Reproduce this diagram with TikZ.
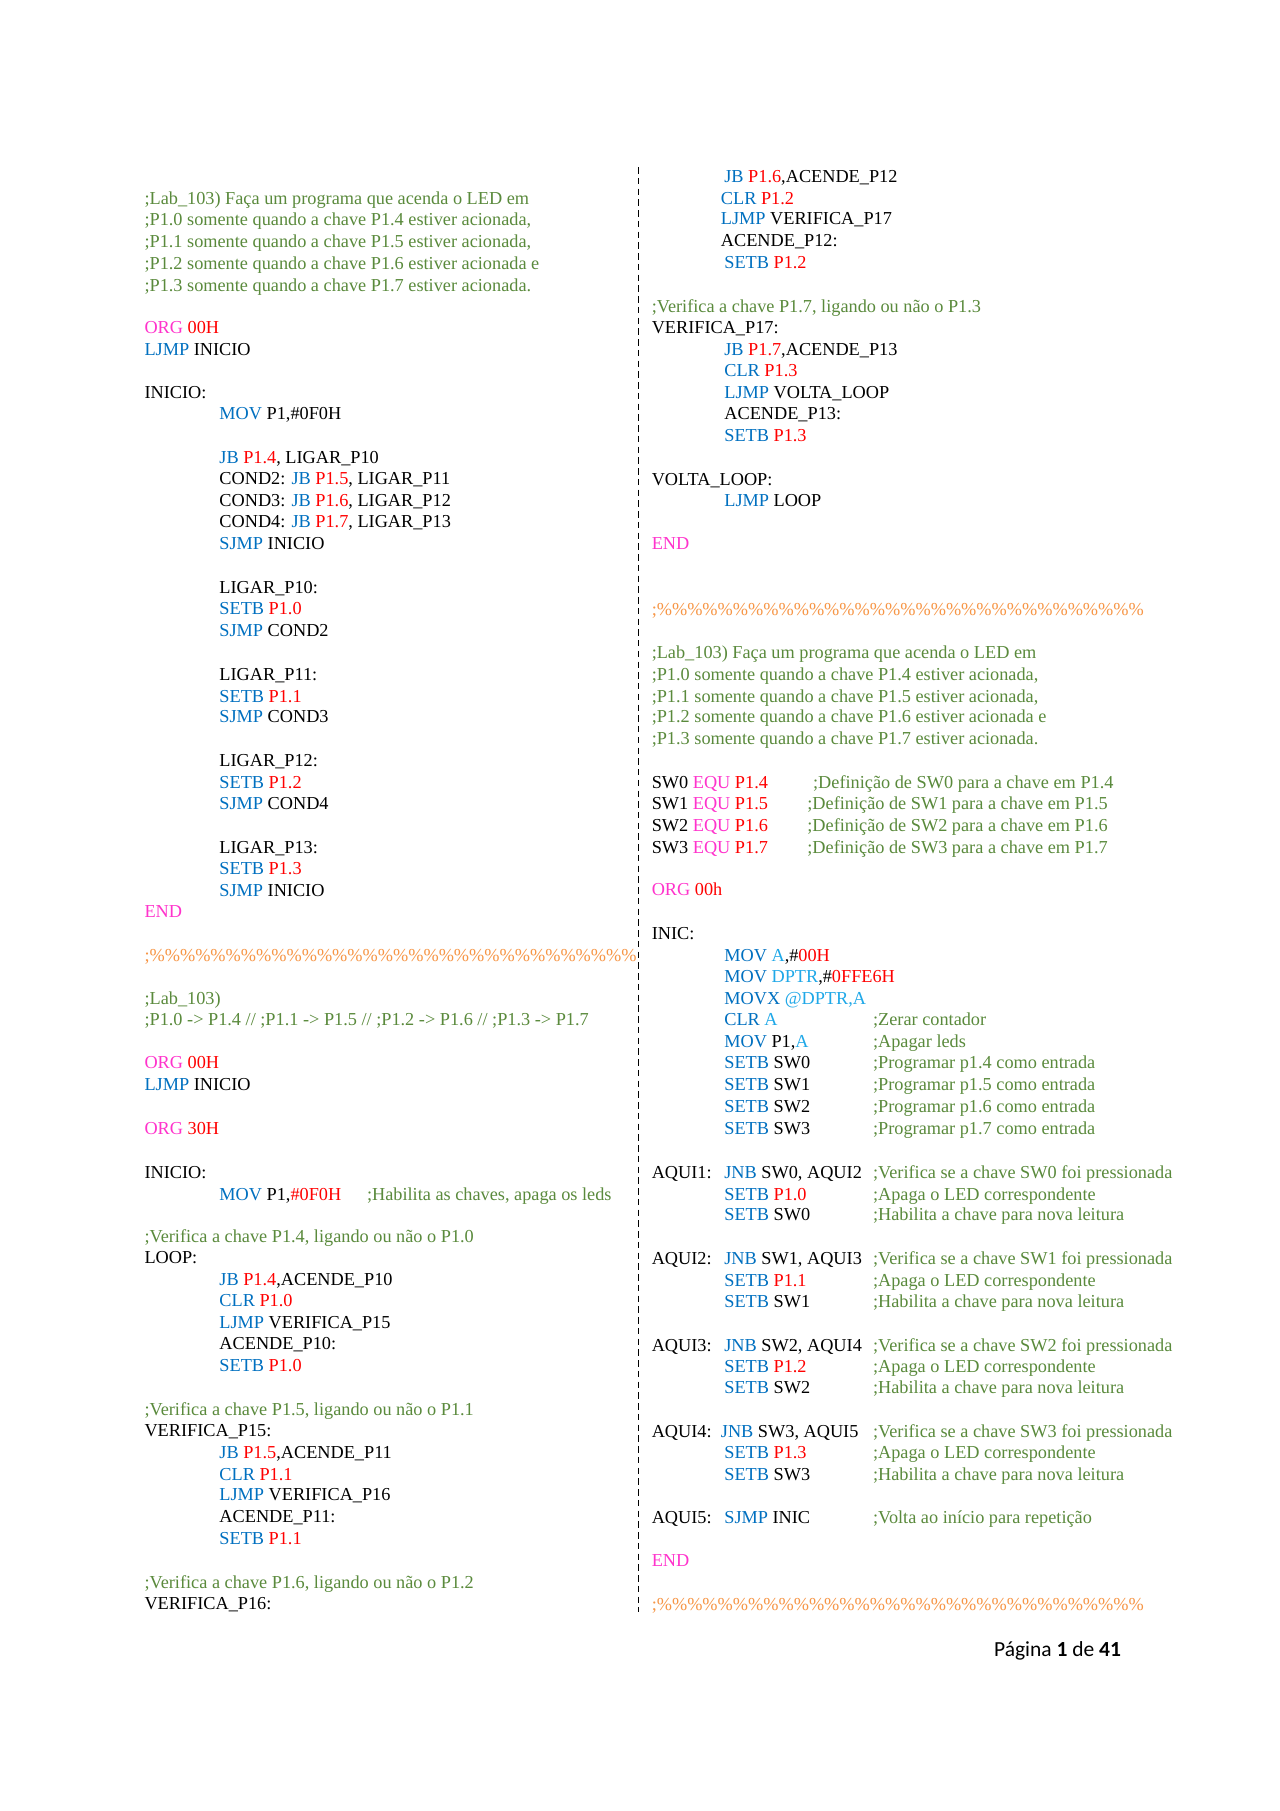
\documentclass[tikz,border=0pt]{standalone}
\usepackage{fontspec}
\setmainfont{Liberation Serif}
\newfontfamily\carl{Carlito}
\definecolor{kb}{HTML}{0070C0}
\definecolor{kl}{HTML}{1FA8E8}
\definecolor{kr}{HTML}{FF0000}
\definecolor{km}{HTML}{FF33CC}
\definecolor{kg}{HTML}{5A8A3C}
\definecolor{ko}{HTML}{F79646}
\newcommand\cB[1]{\textcolor{kb}{#1}}
\newcommand\cL[1]{\textcolor{kl}{#1}}
\newcommand\cR[1]{\textcolor{kr}{#1}}
\newcommand\cM[1]{\textcolor{km}{#1}}
\newcommand\cG[1]{\textcolor{kg}{#1}}
\newcommand\cO[1]{\textcolor{ko}{#1}}
\newcommand\tl[3]{\node[tx] at (#1,-#2-5) {#3};}
\newcommand\pct{\cO{;\%\%\%\%\%\%\%\%\%\%\%\%\%\%\%\%\%\%\%\%\%\%\%\%\%\%\%\%\%\%\%\%}}
\begin{document}
\begin{tikzpicture}[x=0.5363pt,y=0.5363pt,tx/.style={anchor=base west,inner sep=0pt,font=\fontsize{8.5}{10}\selectfont}]
\useasboundingbox (0,0) rectangle (1110,-1571);
\fill[white] (0,0) rectangle (1110,-1571);
\draw[dashed,line width=0.6pt,dash pattern=on 3pt off 2pt] (554,-145) coordinate (d1) -- (554,-1398) coordinate (d2);
% left column
\tl{125}{172}{\cG{;Lab\_103) Faça um programa que acenda o LED em}}
\tl{125}{191}{\cG{;P1.0 somente quando a chave P1.4 estiver acionada,}}
\tl{125}{210}{\cG{;P1.1 somente quando a chave P1.5 estiver acionada,}}
\tl{125}{229}{\cG{;P1.2 somente quando a chave P1.6 estiver acionada e}}
\tl{125}{248}{\cG{;P1.3 somente quando a chave P1.7 estiver acionada.}}
\tl{125}{284}{\cM{ORG} \cR{00H}}
\tl{125}{303}{\cB{LJMP} INICIO}
\tl{125}{341}{INICIO:}
\tl{190}{359}{\cB{MOV} P1,\#0F0H}
\tl{190}{397}{\cB{JB} \cR{P1.4}, LIGAR\_P10}
\tl{190}{415}{COND2: \cB{JB} \cR{P1.5}, LIGAR\_P11}
\tl{190}{434}{COND3: \cB{JB} \cR{P1.6}, LIGAR\_P12}
\tl{190}{453}{COND4: \cB{JB} \cR{P1.7}, LIGAR\_P13}
\tl{190}{472}{\cB{SJMP} INICIO}
\tl{190}{510}{LIGAR\_P10:}
\tl{190}{528}{\cB{SETB} \cR{P1.0}}
\tl{190}{547}{\cB{SJMP} COND2}
\tl{190}{585}{LIGAR\_P11:}
\tl{190}{604}{\cB{SETB} \cR{P1.1}}
\tl{190}{622}{\cB{SJMP} COND3}
\tl{190}{660}{LIGAR\_P12:}
\tl{190}{679}{\cB{SETB} \cR{P1.2}}
\tl{190}{697}{\cB{SJMP} COND4}
\tl{190}{735}{LIGAR\_P13:}
\tl{190}{754}{\cB{SETB} \cR{P1.3}}
\tl{190}{773}{\cB{SJMP} INICIO}
\tl{125}{791}{\cM{END}}
\tl{125}{829}{\pct}
\tl{125}{866}{\cG{;Lab\_103)}}
\tl{125}{885}{\cG{;P1.0 -> P1.4 // ;P1.1 -> P1.5 // ;P1.2 -> P1.6 // ;P1.3 -> P1.7}}
\tl{125}{922}{\cM{ORG} \cR{00H}}
\tl{125}{941}{\cB{LJMP} INICIO}
\tl{125}{979}{\cM{ORG} \cR{30H}}
\tl{125}{1017}{INICIO:}
\tl{190}{1036}{\cB{MOV} P1,\cR{\#0F0H}}
\tl{318}{1036}{\cG{;Habilita as chaves, apaga os leds}}
\tl{125}{1073}{\cG{;Verifica a chave P1.4, ligando ou não o P1.0}}
\tl{125}{1091}{LOOP:}
\tl{190}{1110}{\cB{JB} \cR{P1.4},ACENDE\_P10}
\tl{190}{1128}{\cB{CLR} \cR{P1.0}}
\tl{190}{1147}{\cB{LJMP} VERIFICA\_P15}
\tl{190}{1166}{ACENDE\_P10:}
\tl{190}{1185}{\cB{SETB} \cR{P1.0}}
\tl{125}{1223}{\cG{;Verifica a chave P1.5, ligando ou não o P1.1}}
\tl{125}{1241}{VERIFICA\_P15:}
\tl{190}{1260}{\cB{JB} \cR{P1.5},ACENDE\_P11}
\tl{190}{1279}{\cB{CLR} \cR{P1.1}}
\tl{190}{1297}{\cB{LJMP} VERIFICA\_P16}
\tl{190}{1316}{ACENDE\_P11:}
\tl{190}{1335}{\cB{SETB} \cR{P1.1}}
\tl{125}{1373}{\cG{;Verifica a chave P1.6, ligando ou não o P1.2}}
\tl{125}{1391}{VERIFICA\_P16:}
% right column
\tl{628}{153}{\cB{JB} \cR{P1.6},ACENDE\_P12}
\tl{625}{172}{\cB{CLR} \cR{P1.2}}
\tl{625}{190}{\cB{LJMP} VERIFICA\_P17}
\tl{625}{209}{ACENDE\_P12:}
\tl{628}{228}{\cB{SETB} \cR{P1.2}}
\tl{565}{266}{\cG{;Verifica a chave P1.7, ligando ou não o P1.3}}
\tl{565}{284}{VERIFICA\_P17:}
\tl{628}{303}{\cB{JB} \cR{P1.7},ACENDE\_P13}
\tl{628}{322}{\cB{CLR} \cR{P1.3}}
\tl{628}{341}{\cB{LJMP} VOLTA\_LOOP}
\tl{628}{359}{ACENDE\_P13:}
\tl{628}{378}{\cB{SETB} \cR{P1.3}}
\tl{565}{416}{VOLTA\_LOOP:}
\tl{628}{434}{\cB{LJMP} LOOP}
\tl{565}{472}{\cM{END}}
\tl{565}{529}{\pct}
\tl{565}{566}{\cG{;Lab\_103) Faça um programa que acenda o LED em}}
\tl{565}{585}{\cG{;P1.0 somente quando a chave P1.4 estiver acionada,}}
\tl{565}{604}{\cG{;P1.1 somente quando a chave P1.5 estiver acionada,}}
\tl{565}{622}{\cG{;P1.2 somente quando a chave P1.6 estiver acionada e}}
\tl{565}{641}{\cG{;P1.3 somente quando a chave P1.7 estiver acionada.}}
\tl{565}{679}{SW0 \cM{EQU} \cR{P1.4}}
\tl{705}{679}{\cG{;Definição de SW0 para a chave em P1.4}}
\tl{565}{697}{SW1 \cM{EQU} \cR{P1.5}}
\tl{700}{697}{\cG{;Definição de SW1 para a chave em P1.5}}
\tl{565}{716}{SW2 \cM{EQU} \cR{P1.6}}
\tl{700}{716}{\cG{;Definição de SW2 para a chave em P1.6}}
\tl{565}{735}{SW3 \cM{EQU} \cR{P1.7}}
\tl{700}{735}{\cG{;Definição de SW3 para a chave em P1.7}}
\tl{565}{772}{\cM{ORG} \cR{00h}}
\tl{565}{810}{INIC:}
\tl{628}{829}{\cB{MOV} \cL{A},\#\cR{00H}}
\tl{628}{847}{\cB{MOV} \cL{DPTR},\#\cR{0FFE6H}}
\tl{628}{866}{\cB{MOVX} \cL{@DPTR,A}}
\tl{628}{885}{\cB{CLR} \cL{A}}
\tl{757}{885}{\cG{;Zerar contador}}
\tl{628}{904}{\cB{MOV} P1,\cL{A}}
\tl{757}{904}{\cG{;Apagar leds}}
\tl{628}{922}{\cB{SETB} SW0}
\tl{757}{922}{\cG{;Programar p1.4 como entrada}}
\tl{628}{941}{\cB{SETB} SW1}
\tl{757}{941}{\cG{;Programar p1.5 como entrada}}
\tl{628}{960}{\cB{SETB} SW2}
\tl{757}{960}{\cG{;Programar p1.6 como entrada}}
\tl{628}{979}{\cB{SETB} SW3}
\tl{757}{979}{\cG{;Programar p1.7 como entrada}}
\tl{565}{1017}{AQUI1:}
\tl{628}{1017}{\cB{JNB} SW0, AQUI2}
\tl{757}{1017}{\cG{;Verifica se a chave SW0 foi pressionada}}
\tl{628}{1036}{\cB{SETB} \cR{P1.0}}
\tl{757}{1036}{\cG{;Apaga o LED correspondente}}
\tl{628}{1054}{\cB{SETB} SW0}
\tl{757}{1054}{\cG{;Habilita a chave para nova leitura}}
\tl{565}{1092}{AQUI2:}
\tl{628}{1092}{\cB{JNB} SW1, AQUI3}
\tl{757}{1092}{\cG{;Verifica se a chave SW1 foi pressionada}}
\tl{628}{1111}{\cB{SETB} \cR{P1.1}}
\tl{757}{1111}{\cG{;Apaga o LED correspondente}}
\tl{628}{1129}{\cB{SETB} SW1}
\tl{757}{1129}{\cG{;Habilita a chave para nova leitura}}
\tl{565}{1167}{AQUI3:}
\tl{628}{1167}{\cB{JNB} SW2, AQUI4}
\tl{757}{1167}{\cG{;Verifica se a chave SW2 foi pressionada}}
\tl{628}{1186}{\cB{SETB} \cR{P1.2}}
\tl{757}{1186}{\cG{;Apaga o LED correspondente}}
\tl{628}{1204}{\cB{SETB} SW2}
\tl{757}{1204}{\cG{;Habilita a chave para nova leitura}}
\tl{565}{1242}{AQUI4:}
\tl{625}{1242}{\cB{JNB} SW3, AQUI5}
\tl{757}{1242}{\cG{;Verifica se a chave SW3 foi pressionada}}
\tl{628}{1260}{\cB{SETB} \cR{P1.3}}
\tl{757}{1260}{\cG{;Apaga o LED correspondente}}
\tl{628}{1279}{\cB{SETB} SW3}
\tl{757}{1279}{\cG{;Habilita a chave para nova leitura}}
\tl{565}{1317}{AQUI5:}
\tl{628}{1317}{\cB{SJMP} INIC}
\tl{757}{1317}{\cG{;Volta ao início para repetição}}
\tl{565}{1354}{\cM{END}}
\tl{565}{1392}{\pct}
\node[anchor=base west,inner sep=0pt,font=\carl\fontsize{10}{12}\selectfont] (pg) at (862,-1437) {Página \textbf{1} de \textbf{41}};
\end{tikzpicture}
\end{document}
